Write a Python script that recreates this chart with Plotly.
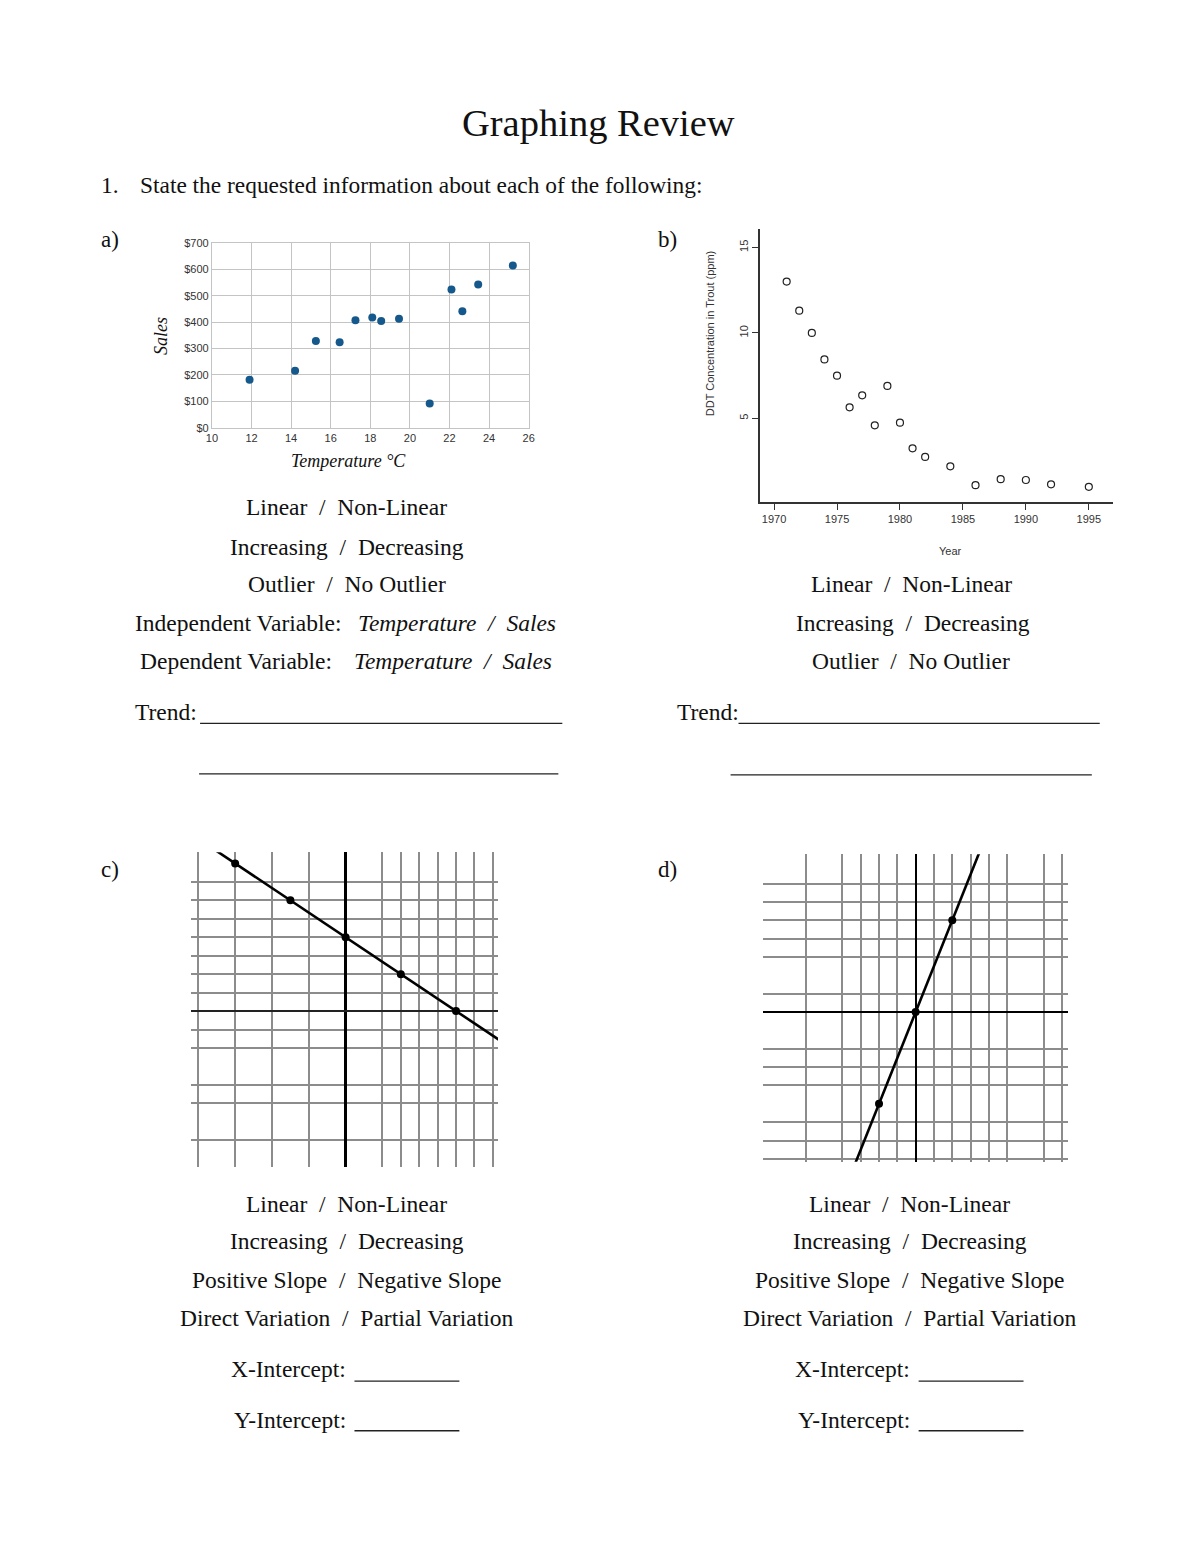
import numpy as np
import plotly.graph_objects as go

# The browser page has an 8px body margin; the figure is kept a little smaller
# than the remaining space so the page never overflows the 1200x1553 window.
OFF = 8
W, H = 1170, 1520

# ---------------- data ----------------
# a) Sales vs temperature
temp_c = [11.9, 14.2, 15.25, 16.45, 17.25, 18.1, 18.55, 19.45, 21.0, 22.1, 22.65, 23.45, 25.2]
sales = [182, 216, 329, 324, 408, 418, 405, 413, 92, 524, 442, 543, 615]
sales_ticks = [0, 100, 200, 300, 400, 500, 600, 700]
sales_ticklabels = ["$0", "$100", "$200", "$300", "$400", "$500", "$600", "$700"]
temp_ticks = [10, 12, 14, 16, 18, 20, 22, 24, 26]

# b) DDT concentration in trout
ddt_year = [1971, 1972, 1973, 1974, 1975, 1976, 1977, 1978, 1979, 1980, 1981, 1982,
            1984, 1986, 1988, 1990, 1992, 1995]
ddt_ppm = [13.0, 11.3, 10.0, 8.45, 7.5, 5.65, 6.35, 4.6, 6.9, 4.75, 3.25, 2.75,
           2.2, 1.1, 1.45, 1.4, 1.15, 1.0]
year_ticks = [1970, 1975, 1980, 1985, 1990, 1995]
ppm_ticks = [5, 10, 15]

# c) line with negative slope
c_x = [-6, -3, 0, 3, 6]
c_y = [8, 6, 4, 2, 0]
c_xgrid = [-8, -6, -4, -2, 0, 2, 3, 4, 5, 6, 7, 8]
c_ygrid = [7, 6, 5, 4, 3, 2, 1, 0, -1, -2, -4, -5, -7]

# d) line through origin
d_x = [-2, 0, 2]
d_y = [-5, 0, 5]
d_xgrid = [-6, -4, -3, -2, -1, 0, 1, 2, 3, 4, 5, 7, 8]
d_ygrid = [7, 6, 5, 4, 3, 1, 0, -2, -3, -4, -6, -7, -8]


def PX(x):
    return (x - OFF) / W


def PY(y):
    return 1 - (y - OFF) / H


SERIF = "Liberation Serif"
SANS = "Liberation Sans"
INK = "#111111"

fig = go.Figure()
fig.add_trace(go.Scatter(x=temp_c, y=sales, mode="markers", xaxis="x", yaxis="y",
                         marker=dict(size=8, color="#15588c"), showlegend=False))
fig.add_trace(go.Scatter(x=ddt_year, y=ddt_ppm, mode="markers", xaxis="x2", yaxis="y2",
                         marker=dict(size=7, symbol="circle-open", color="#222222",
                                     line=dict(width=1.2, color="#222222")),
                         showlegend=False))

c_xr = [-8.39, 8.28]
c_yr = [-8.44, 8.6]
m_c, b_c = np.polyfit(c_x, c_y, 1)
ext_c = np.array([-10.0, 10.0])
fig.add_trace(go.Scatter(x=ext_c, y=m_c * ext_c + b_c, mode="lines", xaxis="x3", yaxis="y3",
                         line=dict(color="black", width=2.6), showlegend=False))
fig.add_trace(go.Scatter(x=c_x, y=c_y, mode="markers", xaxis="x3", yaxis="y3",
                         marker=dict(size=8, color="black"), showlegend=False))

d_xr = [-8.32, 8.32]
d_yr = [-8.16, 8.59]
m_d, b_d = np.polyfit(d_x, d_y, 1)
ext_d = np.array([-10.0, 10.0])
fig.add_trace(go.Scatter(x=ext_d, y=m_d * ext_d + b_d, mode="lines", xaxis="x4", yaxis="y4",
                         line=dict(color="black", width=2.6), showlegend=False))
fig.add_trace(go.Scatter(x=d_x, y=d_y, mode="markers", xaxis="x4", yaxis="y4",
                         marker=dict(size=8, color="black"), showlegend=False))

grid_a = "#c4c4c4"
layout = dict(
    width=W, height=H, margin=dict(l=0, r=0, t=0, b=0),
    paper_bgcolor="white", plot_bgcolor="white", showlegend=False,
    xaxis=dict(domain=[PX(208), PX(528)], range=[10, 26], anchor="y",
               tickvals=temp_ticks, showgrid=True, gridcolor=grid_a, gridwidth=1,
               showline=True, linecolor=grid_a, mirror=True, zeroline=False,
               ticks="", tickfont=dict(family=SANS, size=11, color="#333333")),
    yaxis=dict(domain=[PY(425), PY(239)], range=[0, 700], anchor="x",
               tickvals=sales_ticks, ticktext=sales_ticklabels, showgrid=True,
               gridcolor=grid_a, gridwidth=1, showline=True, linecolor=grid_a,
               mirror=True, zeroline=False, ticks="",
               tickfont=dict(family=SANS, size=11, color="#333333")),
    xaxis2=dict(domain=[PX(761.7), PX(1118)], range=[1968.88, 1996.89], anchor="y2",
                tickvals=year_ticks, showgrid=False, zeroline=False, showline=True,
                linecolor="#333333", linewidth=1.5, ticks="outside", ticklen=6,
                tickcolor="#333333", tickwidth=1.2,
                tickfont=dict(family=SANS, size=11, color="#333333")),
    yaxis2=dict(domain=[PY(500.3), PY(225)], range=[0.09, 16.06], anchor="x2",
                tickvals=ppm_ticks, showgrid=False, zeroline=False, showline=True,
                linecolor="#333333", linewidth=1.5, ticks="outside", ticklen=6,
                tickcolor="#333333", tickwidth=1.2, tickangle=-90,
                tickfont=dict(family=SANS, size=11, color="#333333")),
    xaxis3=dict(domain=[PX(187), PX(497)], range=c_xr, anchor="y3", tickvals=c_xgrid,
                showticklabels=False, showgrid=True, gridcolor="#8c8c8c", gridwidth=1.5,
                zeroline=True, zerolinecolor="black", zerolinewidth=3, showline=False),
    yaxis3=dict(domain=[PY(1170), PY(853)], range=c_yr, anchor="x3", tickvals=c_ygrid,
                showticklabels=False, showgrid=True, gridcolor="#8c8c8c", gridwidth=1.5,
                zeroline=True, zerolinecolor="#222222", zerolinewidth=2, showline=False),
    xaxis4=dict(domain=[PX(765), PX(1073)], range=d_xr, anchor="y4", tickvals=d_xgrid,
                showticklabels=False, showgrid=True, gridcolor="#8c8c8c", gridwidth=1.5,
                zeroline=True, zerolinecolor="black", zerolinewidth=1.5, showline=False),
    yaxis4=dict(domain=[PY(1165), PY(855)], range=d_yr, anchor="x4", tickvals=d_ygrid,
                showticklabels=False, showgrid=True, gridcolor="#8c8c8c", gridwidth=1.5,
                zeroline=True, zerolinecolor="black", zerolinewidth=1.5, showline=False),
)
fig.update_layout(**layout)

anns = []
TS = 23.5


def txt(text, x, y, size=TS, anchor="center", family=SERIF, color=INK, angle=0):
    anns.append(dict(text=text, x=PX(x), y=PY(y), xref="paper", yref="paper",
                     xanchor=anchor, yanchor="middle", showarrow=False, textangle=angle,
                     font=dict(family=family, size=size, color=color)))


NB = "\u00a0"
SL = NB * 2 + "/" + NB * 2

txt("Graphing Review", 599, 118, size=38.5)
txt("1.", 94, 180, size=23.4, anchor="left")
txt("State the requested information about each of the following:", 133, 180, size=23.4, anchor="left")
txt("a)", 94, 235, size=23, anchor="left")
txt("b)", 657, 235, size=23, anchor="left")
txt("c)", 94, 870, size=23, anchor="left")
txt("d)", 657, 870, size=23, anchor="left")
txt("<i>Sales</i>", 157, 332, size=18, angle=-90)
txt("<i>Temperature °C</i>", 346, 459, size=18)
txt("DDT Concentration in Trout (ppm)", 712, 330, size=11, family=SANS, color="#333333", angle=-90)
txt("Year", 954, 549, size=11, family=SANS, color="#333333")
txt("Linear" + SL + "Non-Linear", 344, 505)
txt("Increasing" + SL + "Decreasing", 344, 545)
txt("Outlier" + SL + "No Outlier", 344, 583)
txt("Independent Variable:", 128, 622, anchor="left")
txt("<i>Temperature" + SL + "Sales</i>", 558, 622, anchor="right")
txt("Dependent Variable:", 133, 660, anchor="left")
txt("<i>Temperature" + SL + "Sales</i>", 554, 660, anchor="right")
txt("Trend:", 128, 712, anchor="left")
txt("Linear" + SL + "Non-Linear", 915, 583)
txt("Increasing" + SL + "Decreasing", 916, 622)
txt("Outlier" + SL + "No Outlier", 914, 660)
txt("Trend:", 676, 712, anchor="left")
for cx in (344, 913):
    txt("Linear" + SL + "Non-Linear", cx, 1207)
    txt("Increasing" + SL + "Decreasing", cx, 1245)
    txt("Positive Slope" + SL + "Negative Slope", cx, 1284)
    txt("Direct Variation" + SL + "Partial Variation", cx, 1322)
txt("X-Intercept:", 345, 1374, anchor="right")
txt("Y-Intercept:", 345, 1425, anchor="right")
txt("X-Intercept:", 915, 1374, anchor="right")
txt("Y-Intercept:", 915, 1425, anchor="right")
fig.update_layout(annotations=anns)

shapes = []


def hline(x0, x1, y):
    shapes.append(dict(type="line", xref="paper", yref="paper", x0=PX(x0), x1=PX(x1),
                       y0=PY(y), y1=PY(y), line=dict(color="#222222", width=1.3)))


hline(196, 562, 723)
hline(195, 558, 774)
hline(740, 1105, 723)
hline(732, 1097, 775)
hline(352, 458, 1386)
hline(352, 458, 1436)
hline(922, 1028, 1386)
hline(922, 1028, 1436)
fig.update_layout(shapes=shapes)

fig.write_html("out.html", config={"displayModeBar": False})
